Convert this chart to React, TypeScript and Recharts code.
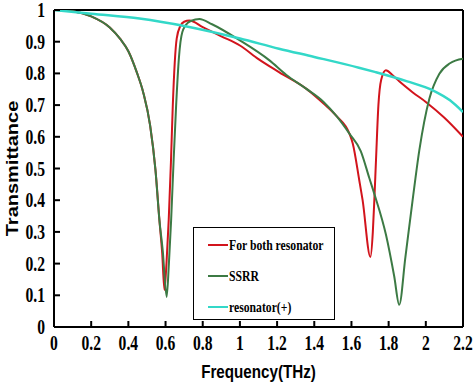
import React from 'react';
import { LineChart, Line, XAxis, YAxis, Legend, Label, ReferenceLine } from 'recharts';

const redFreq = [0, 0.1, 0.2, 0.3, 0.356, 0.4, 0.445, 0.48, 0.517, 0.546, 0.567, 0.582, 0.594, 0.605, 0.617, 0.629, 0.639, 0.66, 0.68, 0.7, 0.728, 0.8, 0.9, 1.0, 1.1, 1.21, 1.356, 1.45, 1.52, 1.589, 1.607, 1.642, 1.66, 1.702, 1.715, 1.723, 1.732, 1.745, 1.76, 1.785, 1.82, 1.857, 1.93, 2.0, 2.1, 2.2];
const redT = [1.0, 0.996, 0.98, 0.945, 0.909, 0.87, 0.804, 0.74, 0.636, 0.494, 0.337, 0.233, 0.117, 0.2, 0.337, 0.52, 0.699, 0.91, 0.95, 0.963, 0.967, 0.946, 0.917, 0.888, 0.845, 0.804, 0.752, 0.705, 0.665, 0.61, 0.579, 0.463, 0.4, 0.221, 0.3, 0.4, 0.526, 0.7, 0.78, 0.81, 0.795, 0.775, 0.74, 0.71, 0.66, 0.6];

const greenFreq = [0, 0.1, 0.2, 0.3, 0.356, 0.4, 0.445, 0.48, 0.517, 0.546, 0.567, 0.585, 0.606, 0.618, 0.63, 0.643, 0.657, 0.672, 0.69, 0.72, 0.76, 0.782, 0.85, 1.0, 1.159, 1.25, 1.356, 1.45, 1.52, 1.589, 1.65, 1.696, 1.723, 1.786, 1.83, 1.857, 1.89, 1.929, 1.965, 2.019, 2.073, 2.13, 2.2];
const greenT = [1.0, 0.996, 0.98, 0.945, 0.909, 0.87, 0.804, 0.74, 0.636, 0.494, 0.337, 0.24, 0.095, 0.2, 0.337, 0.52, 0.7, 0.85, 0.93, 0.96, 0.97, 0.972, 0.955, 0.904, 0.841, 0.795, 0.752, 0.71, 0.665, 0.61, 0.555, 0.47, 0.42, 0.29, 0.16, 0.07, 0.22, 0.4, 0.557, 0.72, 0.799, 0.832, 0.846];

const cyanFreq = [0, 0.2, 0.46, 0.714, 1.0, 1.21, 1.4, 1.64, 1.73, 1.9, 2.04, 2.13, 2.2];
const cyanT = [1.0, 0.988, 0.973, 0.948, 0.91, 0.878, 0.852, 0.818, 0.804, 0.775, 0.746, 0.715, 0.678];

const seriesNames = ['For both resonator', 'SSRR', 'resonator(+)'];
const xTicks = [0, 0.2, 0.4, 0.6, 0.8, 1, 1.2, 1.4, 1.6, 1.8, 2, 2.2];
const yTicks = [0, 0.1, 0.2, 0.3, 0.4, 0.5, 0.6, 0.7, 0.8, 0.9, 1];
const xTitle = 'Frequency(THz)';
const yTitle = 'Transmittance';
const xMax = 2.2;
const yMax = 1;

const toData = (fs: number[], ts: number[]) => fs.map((f, i) => ({ f, t: ts[i] }));
const redData = toData(redFreq, redT);
const greenData = toData(greenFreq, greenT);
const cyanData = toData(cyanFreq, cyanT);

const RED = '#d2141c';
const GREEN = '#3c7a44';
const CYAN = '#33d8c8';
const SERIF = "'Liberation Serif','Times New Roman',serif";
const SANS = "'Liberation Sans',Arial,sans-serif";

const XTick = (props: any) => {
  const { x, y, payload } = props;
  return (
    <text transform={`translate(${x},${y}) scale(0.78,1)`} x={0} y={14} textAnchor="middle"
      fontFamily={SERIF} fontWeight="bold" fontSize={20} fill="#000">
      {payload.value}
    </text>
  );
};

const YTick = (props: any) => {
  const { x, y, payload } = props;
  return (
    <text transform={`translate(${x},${y}) scale(0.78,1)`} x={0} y={7} textAnchor="end"
      fontFamily={SERIF} fontWeight="bold" fontSize={20} fill="#000">
      {payload.value}
    </text>
  );
};

const LegendBox = (props: any) => {
  const payload = props.payload || [];
  return (
    <div style={{ width: 142, height: 93, boxSizing: 'border-box', border: '1.5px solid #000', background: '#fff', position: 'relative' }}>
      {payload.map((p: any, i: number) => (
        <div key={i} style={{ position: 'absolute', left: 14, top: 7 + i * 31, height: 20, display: 'flex', alignItems: 'center' }}>
          <div style={{ width: 20, height: 2.5, background: p.color }} />
          <span style={{ display: 'inline-block', marginLeft: 1, fontFamily: SERIF, fontWeight: 'bold', fontSize: 15, color: '#000', whiteSpace: 'nowrap', transform: 'scaleX(0.78)', transformOrigin: 'left center' }}>
            {p.value}
          </span>
        </div>
      ))}
    </div>
  );
};

export default function App() {
  return (
    <div style={{ position: 'absolute', left: 0, top: 0, background: '#fff' }}>
      <LineChart width={474} height={386} margin={{ top: 10, right: 11, left: 0, bottom: 29 }}>
        <XAxis dataKey="f" type="number" domain={[0, xMax]} ticks={xTicks} interval={0} allowDataOverflow
          height={30} tickSize={-6} tickMargin={15} tick={<XTick />}
          axisLine={{ stroke: '#000', strokeWidth: 2 }} tickLine={{ stroke: '#000', strokeWidth: 2 }}>
          <Label content={(p: any) => {
            const vb = p.viewBox;
            const cx = vb.x + vb.width / 2;
            return (
              <text transform={`translate(${cx},${vb.y + 51}) scale(0.8,1)`} x={0} y={0} textAnchor="middle"
                fontFamily={SANS} fontWeight="bold" fontSize={19} fill="#000">{xTitle}</text>
            );
          }} />
        </XAxis>
        <YAxis type="number" domain={[0, yMax]} ticks={yTicks} interval={0} allowDataOverflow width={54}
          tickSize={-6} tickMargin={15} tick={<YTick />}
          axisLine={{ stroke: '#000', strokeWidth: 2 }} tickLine={{ stroke: '#000', strokeWidth: 2 }}>
          <Label content={(p: any) => {
            const vb = p.viewBox;
            const cy = vb.y + vb.height / 2;
            return (
              <text transform={`translate(13,${cy}) scale(0.78,1) rotate(-90)`} x={0} y={0} textAnchor="middle"
                dominantBaseline="central" fontFamily={SANS} fontWeight="bold" fontSize={20} fill="#000">{yTitle}</text>
            );
          }} />
        </YAxis>
        <ReferenceLine y={yMax} stroke="#000" strokeWidth={2} ifOverflow="extendDomain" />
        <ReferenceLine x={xMax} stroke="#000" strokeWidth={2} ifOverflow="extendDomain" />
        <Legend layout="vertical" verticalAlign="middle" align="center" content={<LegendBox />}
          wrapperStyle={{ left: 193, top: 227, width: 142, height: 93 }} />
        <Line data={redData} dataKey="t" name={seriesNames[0]} type="monotone" stroke={RED} strokeWidth={2} dot={false} isAnimationActive={false} />
        <Line data={greenData} dataKey="t" name={seriesNames[1]} type="monotone" stroke={GREEN} strokeWidth={2} dot={false} isAnimationActive={false} />
        <Line data={cyanData} dataKey="t" name={seriesNames[2]} type="monotone" stroke={CYAN} strokeWidth={2.5} dot={false} isAnimationActive={false} />
      </LineChart>
    </div>
  );
}
